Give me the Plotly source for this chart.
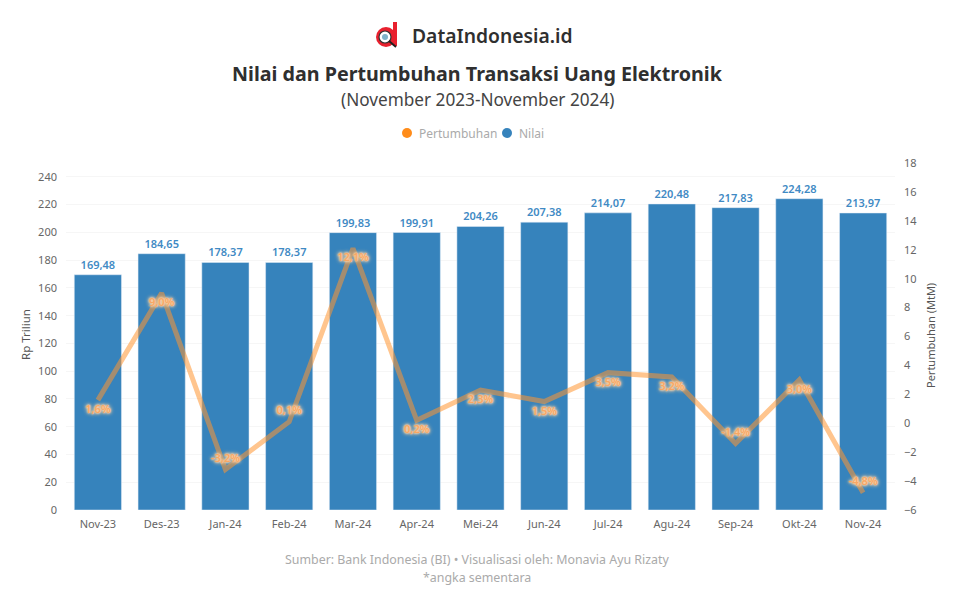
import plotly.graph_objects as go

# Data
bulan = ["Nov-23", "Des-23", "Jan-24", "Feb-24", "Mar-24", "Apr-24", "Mei-24",
         "Jun-24", "Jul-24", "Agu-24", "Sep-24", "Okt-24", "Nov-24"]
nilai = [169.48, 184.65, 178.37, 178.37, 199.83, 199.91, 204.26,
         207.38, 214.07, 220.48, 217.83, 224.28, 213.97]
pertumbuhan = [1.6, 9.0, -3.2, 0.1, 12.1, 0.2, 2.3, 1.5, 3.5, 3.2, -1.4, 3.0, -4.8]
posisi_label = ["bottom center", "bottom center", "top center", "top center", "bottom center",
                "bottom center", "bottom center", "bottom center", "bottom center",
                "bottom center", "top center", "bottom center", "top center"]
kiri_ticks = list(range(0, 241, 20))
kanan_ticks = list(range(-6, 19, 2))

FONT = "Noto Sans"
BIRU = "#3683bc"
ORANYE = "#ff8c1a"

# The page body adds 8px around the figure, so the figure is 16px smaller than the window
BODY = 8
W, H = 954 - 2 * BODY, 596 - 2 * BODY
# Plot box in page pixels
L, R, T, B = 66, 895, 163, 510


def px_x(x):
    return (x - L) / (R - L)


def px_y(y):
    return (B - y) / (B - T)


def teks(s, x, y, size, color, weight=400, angle=0, anchor="center"):
    return dict(text=s, x=px_x(x), y=px_y(y), xref="paper", yref="paper", showarrow=False,
                xanchor=anchor, yanchor="middle", textangle=angle,
                font=dict(family=FONT, size=size, color=color, weight=weight))


def lingkaran(cx, cy, r, fill, line=None, width=0):
    return dict(type="circle", xref="paper", yref="paper",
                x0=px_x(cx - r), x1=px_x(cx + r), y0=px_y(cy + r), y1=px_y(cy - r),
                fillcolor=fill, line=dict(color=line or fill, width=width))


fig = go.Figure()

fig.add_trace(go.Bar(
    x=bulan, y=nilai, marker_color=BIRU, showlegend=False,
    text=[f"{v:.2f}".replace(".", ",") for v in nilai], textposition="outside",
    textfont=dict(family=FONT, size=11, color="#3f8ac4", weight=600),
    cliponaxis=False,
))
# Invisible markers push the labels away from the line
fig.add_trace(go.Scatter(
    x=bulan, y=pertumbuhan, yaxis="y2", mode="lines+markers+text", showlegend=False,
    line=dict(color="rgba(255,150,50,0.55)", width=5),
    marker=dict(size=6, color="rgba(0,0,0,0)"),
    text=[f"{v:.1f}%".replace(".", ",") for v in pertumbuhan], textposition=posisi_label,
    textfont=dict(family=FONT, size=11, color="#f7a764", weight=600,
                  shadow="0 0 2px #ffd2a6, 0 0 2px #ffd2a6, 0 0 3px #ffd2a6, 0 0 4px #ffd2a6, 0 0 5px #ffd2a6"),
    cliponaxis=False,
))

annotations = [
    teks("DataIndonesia.id", 492, 35, 19.3, "#2f2f2f", 600),
    teks("Nilai dan Pertumbuhan Transaksi Uang Elektronik", 477, 74, 19.7, "#2f2f2f", 700),
    teks("(November 2023-November 2024)", 477, 99, 17.2, "#444444"),
    teks("Rp Triliun", 25, 335, 11.5, "#555555", angle=-90),
    teks("Pertumbuhan (MtM)", 930, 336, 11, "#555555", angle=-90),
    teks("Sumber: Bank Indonesia (BI) • Visualisasi oleh: Monavia Ayu Rizaty", 477, 559, 12.4, "#aaaaaa"),
    teks("*angka sementara", 477, 577, 12.4, "#aaaaaa"),
    # Legend, tighter than the built-in one allows
    teks("Pertumbuhan", 417, 133, 12, "#aaaaaa", anchor="left"),
    teks("Nilai", 517, 133, 12, "#aaaaaa", anchor="left"),
]

shapes = [
    lingkaran(407, 133, 5, ORANYE),
    lingkaran(507, 133, 5, BIRU),
    # Logo
    lingkaran(386, 37, 10, "#e8202e"),
    dict(type="rect", xref="paper", yref="paper", x0=px_x(393), x1=px_x(397),
         y0=px_y(46), y1=px_y(22), fillcolor="#e8202e", line_width=0),
    lingkaran(385, 37, 6, "#ffffff", "#333333", 1.2),
    lingkaran(385, 37, 3, "#7fb2c9"),
    dict(type="line", xref="paper", yref="paper", x0=px_x(389), x1=px_x(396),
         y0=px_y(41), y1=px_y(47), line=dict(color="#222222", width=2)),
]

fig.update_layout(
    width=W, height=H, autosize=False,
    margin=dict(l=L - BODY, r=W + BODY - R, t=T - BODY, b=H + BODY - B, pad=0),
    paper_bgcolor="white", plot_bgcolor="white",
    font=dict(family=FONT, size=10, color="#666666"),
    bargap=0.26, showlegend=False,
    annotations=annotations, shapes=shapes,
    xaxis=dict(type="category", range=[-0.5, 12.5], tickfont=dict(size=11, color="#666666"),
               showgrid=False, showline=False, ticks="", ticklabelstandoff=6),
    yaxis=dict(range=[0, 250], tickvals=kiri_ticks, gridcolor="#f6f6f6", gridwidth=1,
               zeroline=False, tickfont=dict(size=11, color="#666666"), ticks="",
               ticklabelstandoff=8),
    yaxis2=dict(range=[-6, 18], tickvals=kanan_ticks, overlaying="y", side="right",
                showgrid=False, zeroline=False, tickfont=dict(size=11, color="#666666"), ticks="",
                ticklabelstandoff=8),
)

fig.write_html("out.html")
